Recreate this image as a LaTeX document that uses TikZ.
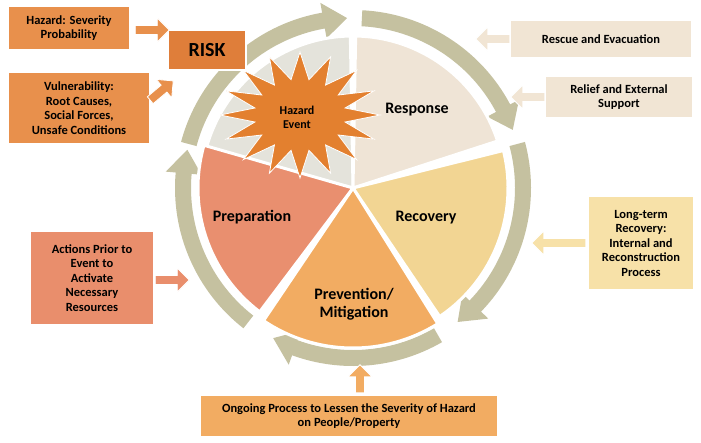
\documentclass[tikz,border=0pt]{standalone}
\usepackage{fontspec}
\setmainfont{Carlito}
\usetikzlibrary{shapes.arrows}
\definecolor{ringc}{HTML}{C5C1A0}
\definecolor{cresp}{HTML}{EFE4D6}
\definecolor{creco}{HTML}{F2D593}
\definecolor{cprev}{HTML}{F2AC62}
\definecolor{cprep}{HTML}{E98F6F}
\definecolor{cgray}{HTML}{E4E3DB}
\definecolor{cstar}{HTML}{E3802F}
\definecolor{corg}{HTML}{E8904C}
\definecolor{crisk}{HTML}{DF7E3A}
\definecolor{cbeige}{HTML}{F1E5D4}
\definecolor{cyel}{HTML}{F7E1A8}
\definecolor{csal}{HTML}{E98E6C}
\tikzset{
 box/.style={draw=white,line width=1.2pt,align=center,font=\bfseries\fontsize{12.5}{14.5}\selectfont,inner sep=3pt},
 barrow/.style={single arrow,draw=white,line width=0.8pt,minimum height=34,minimum width=24,single arrow head extend=4,inner sep=2pt},
 wedge/.style={draw=white,line width=3pt},
 lab/.style={font=\bfseries\fontsize{16}{18}\selectfont,align=center}
}
\newcommand{\ringarrow}[2]{%
 \fill[ringc] (#1:178) arc[start angle=#1,end angle=#2,radius=178] -- (#2:188) -- ({#2-8}:170) -- (#2:152) -- (#2:162) arc[start angle=#2,end angle=#1,radius=162] -- cycle;}
\begin{document}
\begin{tikzpicture}[x=1pt,y=-1pt]
\useasboundingbox (0,0) rectangle (701,442);
\fill[white] (0,0) rectangle (701,442);
\begin{scope}[shift={(353,188)},yscale=-1]
 \ringarrow{232}{175}
 \ringarrow{165}{100}
 \ringarrow{87}{28}
 \ringarrow{15}{-44}
 \ringarrow{-60}{-110}
 \fill[cgray,wedge] (0,0) -- (165:152) arc[start angle=165,end angle=91,radius=152] -- cycle;
 \fill[cresp,wedge] (0,0) -- (89:152) arc[start angle=89,end angle=18,radius=152] -- cycle;
 \fill[creco,wedge] (0,0) -- (14:155) arc[start angle=14,end angle=-56,radius=155] -- cycle;
 \fill[cprev,wedge] (0,0) -- (-58:160) arc[start angle=-58,end angle=-124,radius=160] -- cycle;
 \fill[cprep,wedge] (0,0) -- (-127:155) arc[start angle=-127,end angle=-196,radius=155] -- cycle;
\end{scope}
\fill[cstar,draw=white,line width=0.8pt] (380,115)
 \foreach \i in {1,...,31} { -- ({300+(mod(\i,2)==0?80:46)*cos(\i*11.25)},{115-(mod(\i,2)==0?63:36)*sin(\i*11.25)}) } -- cycle;
\node[font=\bfseries\fontsize{12}{14}\selectfont,align=center] (hz) at (297,117) {Hazard\\Event};
\node[lab] (resp) at (417,110) {Response};
\node[lab] (reco) at (426,218) {Recovery};
\node[lab] (prep) at (252,217) {Preparation};
\node[lab] (prev) at (354,304) {Prevention/\\Mitigation};
% left boxes
\node[box,fill=corg,minimum width=122,minimum height=44] (hs) at (69,28) {Hazard: Severity\\Probability};
\node[box,fill=crisk,minimum width=78,minimum height=40,font=\bfseries\fontsize{20}{22}\selectfont] (risk) at (207,50) {RISK};
\node[box,fill=corg,minimum width=142,minimum height=72] (vul) at (79,108) {Vulnerability:\\Root Causes,\\Social Forces,\\Unsafe Conditions};
\node[barrow,fill=corg] (a1) at (150,30) {};
\node[barrow,fill=corg,rotate=40,minimum height=30] (a2) at (160,92) {};
\node[box,fill=csal,minimum width=124,minimum height=94] (act) at (92,278) {Actions Prior to\\Event to\\Activate\\Necessary\\Resources};
\node[barrow,fill=csal] (a3) at (170,280) {};
% right boxes
\node[box,fill=cbeige,minimum width=182,minimum height=38] (res) at (601,39) {Rescue and Evacuation};
\node[barrow,fill=cbeige,shape border rotate=180] (a4) at (495,39) {};
\node[box,fill=cbeige,minimum width=148,minimum height=42] (rel) at (619,97) {Relief and External\\Support};
\node[barrow,fill=cbeige,shape border rotate=180] (a5) at (530,97) {};
\node[box,fill=cyel,minimum width=106,minimum height=94] (lt) at (641,243) {Long-term\\Recovery:\\Internal and\\Reconstruction\\Process};
\node[barrow,fill=cyel,shape border rotate=180,minimum height=54] (a6) at (561,243) {};
% bottom
\node[box,fill=cprev,minimum width=298,minimum height=42] (bot) at (349,416) {Ongoing Process to Lessen the Severity of Hazard\\on People/Property};
\node[barrow,fill=cprev,shape border rotate=90,minimum height=28] (a7) at (360,381) {};
\end{tikzpicture}
\end{document}
